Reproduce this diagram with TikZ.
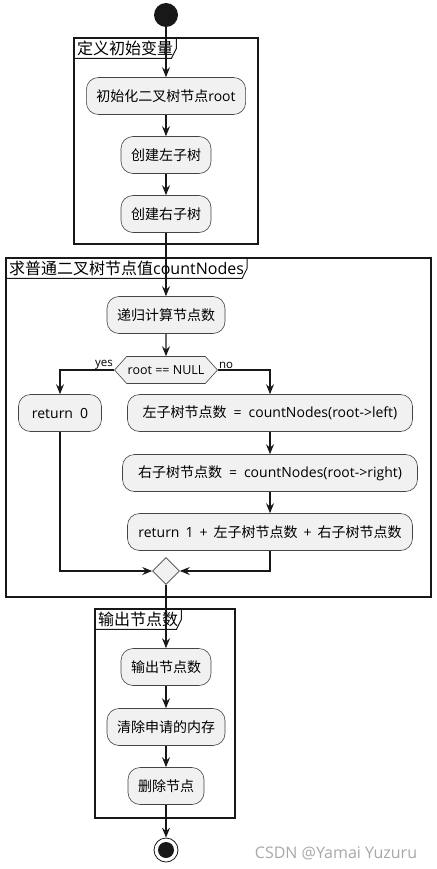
\documentclass[tikz,border=0pt]{standalone}
\usepackage{fontspec}
\setmainfont{Noto Sans CJK SC}
\newfontfamily\lat{Open Sans}
\definecolor{linecol}{HTML}{181818}
\definecolor{boxfill}{HTML}{F1F1F1}
\definecolor{boxline}{HTML}{444444}
\definecolor{marktext}{HTML}{A8A8A8}
\usetikzlibrary{arrows.meta, positioning, shapes.geometric, shapes.symbols}

\begin{document}
\begin{tikzpicture}[x=1pt, y=-1pt,
  act/.style={draw=boxline, fill=boxfill, rounded corners=12pt, minimum height=37pt,
              inner xsep=10pt, font=\fontsize{14}{16}\selectfont, line width=0.6pt},
  decide/.style={draw=boxline, fill=boxfill, signal, signal to=east and west,
                 signal pointer angle=96, minimum height=27pt, inner xsep=1pt,
                 font=\fontsize{12.5}{14}\selectfont\lat, line width=0.6pt},
  merge/.style={diamond, draw=boxline, fill=boxfill, minimum size=27pt, inner sep=0pt,
                line width=0.6pt},
  frame/.style={draw=linecol, line width=1.6pt},
  tab/.style={anchor=north west, minimum height=20pt, inner xsep=3pt, inner ysep=0pt,
              font=\fontsize{16}{18}\selectfont},
  tabline/.style={draw=linecol, line width=1pt},
  flow/.style={-{Stealth[length=10pt, width=8pt, inset=3.5pt]}, draw=linecol, line width=1.2pt},
  guard/.style={font=\fontsize{11.5}{13}\selectfont\lat, inner sep=1pt}
]
\useasboundingbox (0,0) rectangle (436,869);

% partitions
\draw[frame] (74,38) rectangle (258,244);
\node[tab] (tabinit) at (74,38) {定义初始变量};
\draw[tabline] (tabinit.south west) -- ([xshift=-5pt]tabinit.south east)
  -- ([yshift=10pt]tabinit.south east) -- (tabinit.north east);

\draw[frame] (6,258) rectangle (431,597);
\node[tab] (tabcount) at (6,258) {求普通二叉树节点值{\lat countNodes}};
\draw[tabline] (tabcount.south west) -- ([xshift=-5pt]tabcount.south east)
  -- ([yshift=10pt]tabcount.south east) -- (tabcount.north east);

\draw[frame] (95,609) rectangle (235,818);
\node[tab] (tabout) at (95,609) {输出节点数};
\draw[tabline] (tabout.south west) -- ([xshift=-5pt]tabout.south east)
  -- ([yshift=10pt]tabout.south east) -- (tabout.north east);

% activities
\node[circle, fill=linecol, minimum size=24pt, inner sep=0pt] (start) at (166,15) {};
\node[act] (init) at (166,96) {初始化二叉树节点{\lat root}};
\node[act] (lsub) at (166,155) {创建左子树};
\node[act] (rsub) at (166,214) {创建右子树};

\node[act] (recur) at (166,315) {递归计算节点数};
\node[decide] (isnull) at (166,370) {root == NULL};
\node[act, minimum width=83pt] (ret0) at (60,413) {\lat return\hspace{7pt}0};
\node[act, minimum width=285pt] (lcnt) at (270,413)
  {左子树节点数{\lat\hspace{7pt}=\hspace{7pt}countNodes(root->left)}};
\node[act, minimum width=295pt] (rcnt) at (270,473)
  {右子树节点数{\lat\hspace{7pt}=\hspace{7pt}countNodes(root->right)}};
\node[act, minimum width=285pt] (ret1) at (270,532)
  {{\lat return\hspace{6pt}1\hspace{6pt}+\hspace{6pt}}左子树节点数{\lat\hspace{6pt}+\hspace{6pt}}右子树节点数};
\node[merge] (join) at (166,571) {};

\node[act] (out) at (166,667) {输出节点数};
\node[act] (clear) at (166,727) {清除申请的内存};
\node[act] (del) at (166,786) {删除节点};
\node[circle, draw=linecol, fill=white, minimum size=24pt, inner sep=0pt, line width=0.8pt,
      path picture={\fill[linecol] (path picture bounding box.center) circle (8pt);}]
  (stop) at (166,850) {};

% connectors
\draw[flow] (start) -- (init);
\draw[flow] (init) -- (lsub);
\draw[flow] (lsub) -- (rsub);
\draw[flow] (rsub) -- (recur);
\draw[flow] (recur) -- (isnull);
\draw[flow] (isnull.west) -| (ret0.north);
\node[guard, above left] at (isnull.west) {yes};
\draw[flow] (isnull.east) -| (lcnt.north);
\node[guard, above right] at (isnull.east) {no};
\draw[flow] (lcnt) -- (rcnt);
\draw[flow] (rcnt) -- (ret1);
\draw[flow] (ret0.south) |- (join.west);
\draw[flow] (ret1.south) |- (join.east);
\draw[flow] (join) -- (out);
\draw[flow] (out) -- (clear);
\draw[flow] (clear) -- (del);
\draw[flow] (del) -- (stop);

\node[text=marktext, font=\fontsize{16}{18}\selectfont\lat] (mark) at (336,853) {CSDN @Yamai Yuzuru};
\end{tikzpicture}
\end{document}
